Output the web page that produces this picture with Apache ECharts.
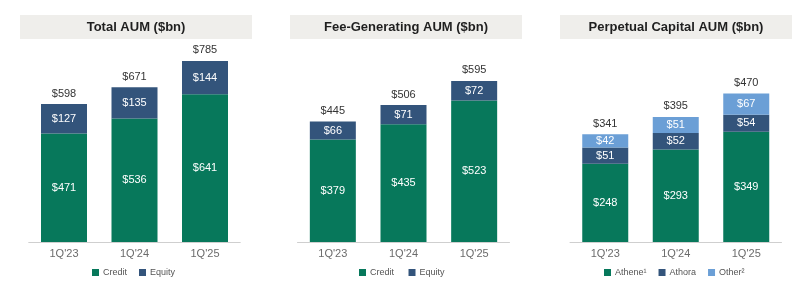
<!DOCTYPE html>
<html>
<head>
<meta charset="utf-8">
<script src="https://cdn.jsdelivr.net/npm/echarts@6/dist/echarts.min.js"></script>
<style>html,body{margin:0;padding:0;background:#fff}#c{width:806px;height:289px}</style>
</head>
<body>
<div id="c"></div>
<script>
var categories = ["1Q'23", "1Q'24", "1Q'25"];
var titles = ["Total AUM ($bn)", "Fee-Generating AUM ($bn)", "Perpetual Capital AUM ($bn)"];

var totalCredit = [471, 536, 641];
var totalEquity = [127, 135, 144];
var totalSum = [598, 671, 785];

var feeCredit = [379, 435, 523];
var feeEquity = [66, 71, 72];
var feeSum = [445, 506, 595];

var permAthene = [248, 293, 349];
var permAthora = [51, 52, 54];
var permOther = [42, 51, 67];
var permSum = [341, 395, 470];

var GREEN = '#07785B', NAVY = '#33547B', LIGHT = '#6B9FD6';
var FONT = 'Arial, "Liberation Sans", sans-serif';

var chart = echarts.init(document.getElementById('c'), null, {renderer: 'canvas'});

var grids = [
  {left: 28.75, width: 211.5, top: 57.5, bottom: 47},
  {left: 297.5, width: 212, top: 79.6, bottom: 47},
  {left: 570, width: 211.5, top: 84.1, bottom: 47}
];
var maxes = [800, 600, 500];

var xAxes = grids.map(function (g, i) {
  return {
    type: 'category', gridIndex: i, data: categories,
    axisLine: {lineStyle: {color: '#cfcfcf', width: 1}},
    axisTick: {show: false},
    axisLabel: {color: '#6b6b6b', fontSize: 11, fontFamily: FONT, margin: 6}
  };
});
var yAxes = grids.map(function (g, i) {
  return {type: 'value', gridIndex: i, min: 0, max: maxes[i], show: false, splitLine: {show: false}};
});

function seg(name, data, color, idx, stack) {
  return {
    name: name, type: 'bar', xAxisIndex: idx, yAxisIndex: idx, stack: stack,
    data: data, barWidth: 46, itemStyle: {color: color},
    label: {show: true, position: 'inside', color: '#ffffff', fontSize: 11, fontFamily: FONT,
      formatter: function (p) { return '$' + p.value; }},
    emphasis: {disabled: true}
  };
}
function tot(sum, idx, stack) {
  return {
    name: 'total' + idx, type: 'bar', xAxisIndex: idx, yAxisIndex: idx, stack: stack,
    data: sum.map(function () { return 0; }), barWidth: 46, itemStyle: {color: 'transparent'},
    label: {show: true, position: 'top', distance: 5, color: '#333333', fontSize: 11, fontFamily: FONT,
      formatter: function (p) { return '$' + sum[p.dataIndex]; }},
    emphasis: {disabled: true}
  };
}

var series = [
  seg('Credit', totalCredit, GREEN, 0, 's0'),
  seg('Equity', totalEquity, NAVY, 0, 's0'),
  tot(totalSum, 0, 's0'),
  seg('Credit ', feeCredit, GREEN, 1, 's1'),
  seg('Equity ', feeEquity, NAVY, 1, 's1'),
  tot(feeSum, 1, 's1'),
  seg('Athene\u00B9', permAthene, GREEN, 2, 's2'),
  seg('Athora', permAthora, NAVY, 2, 's2'),
  seg('Other\u00B2', permOther, LIGHT, 2, 's2'),
  tot(permSum, 2, 's2')
];

function leg(names, left) {
  return {
    data: names, left: left, top: 268, padding: 0, orient: 'horizontal', icon: 'rect',
    itemWidth: 7, itemHeight: 7, itemGap: 12, selectedMode: false,
    textStyle: {fontSize: 9, color: '#555', fontFamily: FONT, padding: [0, 0, 0, -1]}
  };
}

var boxes = [[20, 252], [290, 522], [560, 792]];
var graphics = [];
boxes.forEach(function (b, i) {
  graphics.push({type: 'rect', left: b[0], top: 15, shape: {width: b[1] - b[0], height: 24}, style: {fill: '#EFEEEB'}, silent: true});
  graphics.push({type: 'text', x: (b[0] + b[1]) / 2, y: 27, style: {text: titles[i], fill: '#1f1f1f', font: 'bold 13px ' + FONT, textAlign: 'center', textVerticalAlign: 'middle'}, silent: true});
});

chart.setOption({
  animation: false,
  grid: grids,
  xAxis: xAxes,
  yAxis: yAxes,
  legend: [leg(['Credit', 'Equity'], 92), leg(['Credit ', 'Equity '], 359), leg(['Athene\u00B9', 'Athora', 'Other\u00B2'], 604)],
  graphic: graphics,
  series: series
});
</script>
</body>
</html>
